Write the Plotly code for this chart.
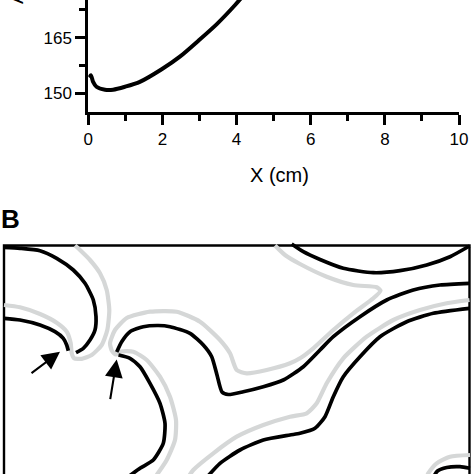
import plotly.graph_objects as go

# ---------------- Panel A data (X in cm vs value) ----------------
a_x = [0.02, 0.07, 0.13, 0.22, 0.45, 0.67, 0.99, 1.39, 1.98, 2.47, 2.97, 3.46, 3.96, 4.15]
a_y = [154.3, 154.9, 153.1, 151.8, 151.0, 151.0, 151.8, 153.1, 156.5, 159.9, 164.2, 168.6, 173.8, 176.0]
a_xticks = [0, 2, 4, 6, 8, 10]
a_yticks = [150, 165]

# ---------------- Panel B data (traced contours, panel units) ----------------
box_x = [4, 4, 469.5, 469.5]
box_y = [476, 245.5, 245.5, 476]

black1_x = [4, 20, 40, 56.7, 73.3, 85, 93.3, 96, 95, 90, 83.3, 76]
black1_y = [247.3, 248.3, 250.7, 258.3, 270, 283.3, 300, 316.7, 330, 340, 348.3, 352.7]
black2_x = [4, 20, 40, 55, 63.3, 66.7, 68.3]
black2_y = [318.3, 320, 325, 331.7, 338.3, 345, 350.7]
black3_x = [116.7, 121.7, 130, 143.3, 158.3, 170, 190, 203.3, 211.7, 217, 222, 228.3, 243.3, 263.3,
            283.3, 303.3, 320, 333.3, 360, 386.7, 413.3, 440, 469.5]
black3_y = [352, 341.7, 331.7, 326.7, 325.5, 326.7, 333.3, 345, 356.7, 375, 392, 394.5, 391.7, 386.7,
            380, 366.7, 350, 336.7, 316.7, 300, 290, 285, 283.3]
black4_x = [291.7, 303.3, 320, 343.3, 373.3, 400, 426.7, 450, 469.5]
black4_y = [244, 251.7, 259.5, 268.3, 272.7, 270.7, 265, 256.7, 246]
black5_x = [469.5, 433.3, 406.7, 380, 360, 343.3, 333.3, 325, 315, 300, 290, 263.3, 240, 220, 208]
black5_y = [308.3, 313.3, 321.7, 336.7, 356.7, 376.7, 396.7, 416.7, 428.3, 433.3, 435, 440, 450, 463.3, 476]
black6_x = [118.5, 130, 140, 150, 160, 165, 163.3, 153.3, 140, 128]
black6_y = [355, 358.3, 366.7, 383.3, 403.3, 423.3, 443.3, 460, 468.3, 477]
black7_x = [434, 437.5, 446.7, 460, 470]
black7_y = [476, 471, 467.5, 466.7, 468.3]

gray1_x = [4, 20, 40, 56.7, 66.7, 70.7, 71.7, 74, 81.7, 91.7, 101.7, 107.3, 109.3, 106.7, 100, 90, 80, 75]
gray1_y = [305, 307.3, 314, 322.7, 331.7, 343.3, 353.3, 358.3, 358.8, 355, 345, 330, 310, 290, 273.3, 260, 250, 245.5]
gray2_x = [275, 285, 300, 326.7, 353.3, 376.7, 380.5, 373.3, 353.3, 333.3, 313.3, 300, 290, 266.7, 246.7,
           236.7, 230, 220, 200, 176.7, 150, 126.7, 115, 110, 112, 116, 121, 133.3, 146.7, 160, 170,
           176, 175, 166.7, 156.7]
gray2_y = [245.5, 255, 264, 276.7, 285, 287.3, 290.5, 298.3, 313.3, 330, 348.3, 358.3, 363.3, 370, 373.3,
           370, 353.3, 340, 321.7, 311.7, 311.7, 318, 330, 343.3, 351, 354.5, 351.5, 351.7, 360, 376.7, 396.7,
           420, 440, 460, 475]
gray3_x = [469.5, 446.7, 420, 393.3, 366.7, 343.3, 326.7, 316.7, 306.7, 290, 263.3, 236.7, 213.3, 193.3, 189]
gray3_y = [300, 303.3, 310, 320, 336.7, 358.3, 383.3, 403.3, 413.3, 416.7, 425, 436.7, 453.3, 470, 476]
gray4_x = [427, 428.5, 436.7, 450, 470]
gray4_y = [476, 473, 463.3, 456.7, 455]

arrow_heads = [(60, 351.7), (116.7, 359.5)]
arrow_tails = [(30, 374.3), (110, 400.7)]

BLACK = "#000000"
GRAY = "#d5d7d7"
FONT = "Liberation Sans, Arial, Helvetica, sans-serif"

fig = go.Figure()

# Panel A curve
fig.add_trace(go.Scatter(x=a_x, y=a_y, mode="lines", line=dict(color=BLACK, width=4, shape="spline", smoothing=0.7),
                         xaxis="x", yaxis="y", showlegend=False, hoverinfo="skip"))

# Panel B
fig.add_trace(go.Scatter(x=box_x, y=box_y, mode="lines", line=dict(color=BLACK, width=2.4),
                         xaxis="x2", yaxis="y2", showlegend=False, hoverinfo="skip"))
for gx, gy in [(gray1_x, gray1_y), (gray2_x, gray2_y), (gray3_x, gray3_y), (gray4_x, gray4_y)]:
    fig.add_trace(go.Scatter(x=gx, y=gy, mode="lines", line=dict(color=GRAY, width=4.2, shape="spline", smoothing=0.6),
                             xaxis="x2", yaxis="y2", showlegend=False, hoverinfo="skip"))
for bx, by in [(black1_x, black1_y), (black2_x, black2_y), (black3_x, black3_y), (black4_x, black4_y),
               (black5_x, black5_y), (black6_x, black6_y), (black7_x, black7_y)]:
    fig.add_trace(go.Scatter(x=bx, y=by, mode="lines", line=dict(color=BLACK, width=3.7, shape="spline", smoothing=0.6),
                             xaxis="x2", yaxis="y2", showlegend=False, hoverinfo="skip"))

annotations = []
for (hx, hy), (tx, ty) in zip(arrow_heads, arrow_tails):
    annotations.append(dict(x=hx, y=hy, ax=tx, ay=ty, xref="x2", yref="y2", axref="x2", ayref="y2",
                            text="", showarrow=True, arrowhead=2, arrowsize=1.7, arrowwidth=2.1,
                            arrowcolor=BLACK, standoff=0))

annotations.append(dict(text="X (cm)", x=279 / 474, y=(474 - 175) / 474, xref="paper", yref="paper",
                        xanchor="center", yanchor="middle", showarrow=False,
                        font=dict(family=FONT, size=20, color=BLACK)))
annotations.append(dict(text="<b>B</b>", x=10 / 474, y=(474 - 219) / 474, xref="paper", yref="paper",
                        xanchor="center", yanchor="middle", showarrow=False,
                        font=dict(family=FONT, size=26, color=BLACK)))
annotations.append(dict(text="A", textangle=-90, x=29 / 474, y=(474 - 6) / 474, xref="paper", yref="paper",
                        xanchor="right", yanchor="bottom", showarrow=False,
                        font=dict(family=FONT, size=20, color=BLACK)))

fig.update_layout(
    template="none",
    width=474, height=474, autosize=False,
    margin=dict(l=0, r=0, t=0, b=0, pad=0, autoexpand=False),
    paper_bgcolor="white", plot_bgcolor="white",
    showlegend=False,
    font=dict(family=FONT, color=BLACK),
    xaxis=dict(domain=[88.3 / 474, 459 / 474], range=[0, 10], tickvals=a_xticks, automargin=False,
               showline=True, linewidth=3, linecolor=BLACK, showgrid=False, zeroline=False,
               ticks="outside", ticklen=10, tickwidth=3, tickcolor=BLACK,
               tickfont=dict(family=FONT, size=17, color=BLACK),
               minor=dict(dtick=1, tick0=0, ticks="outside", ticklen=6, tickwidth=3, tickcolor=BLACK, showgrid=False),
               anchor="y", fixedrange=True),
    yaxis=dict(domain=[(474 - 112) / 474, 1], range=[145, 175.15], tickvals=a_yticks, automargin=False,
               showline=True, linewidth=3, linecolor=BLACK, showgrid=False, zeroline=False,
               ticks="outside", ticklen=10, tickwidth=3, tickcolor=BLACK,
               tickfont=dict(family=FONT, size=17, color=BLACK),
               minor=dict(dtick=7.5, tick0=150, ticks="outside", ticklen=6, tickwidth=3, tickcolor=BLACK, showgrid=False),
               anchor="x", fixedrange=True),
    xaxis2=dict(domain=[0, 1], range=[0, 474], visible=False, anchor="y2", fixedrange=True, automargin=False),
    yaxis2=dict(domain=[0, 0.5], range=[474, 237], visible=False, anchor="x2", fixedrange=True, automargin=False),
    annotations=annotations,
)

post = (
    "document.documentElement.style.margin='0';document.documentElement.style.overflow='hidden';"
    "document.body.style.margin='0';document.body.style.padding='0';document.body.style.overflow='hidden';"
)

fig.write_html("out.html", config={"displayModeBar": False, "responsive": False}, post_script=post)
